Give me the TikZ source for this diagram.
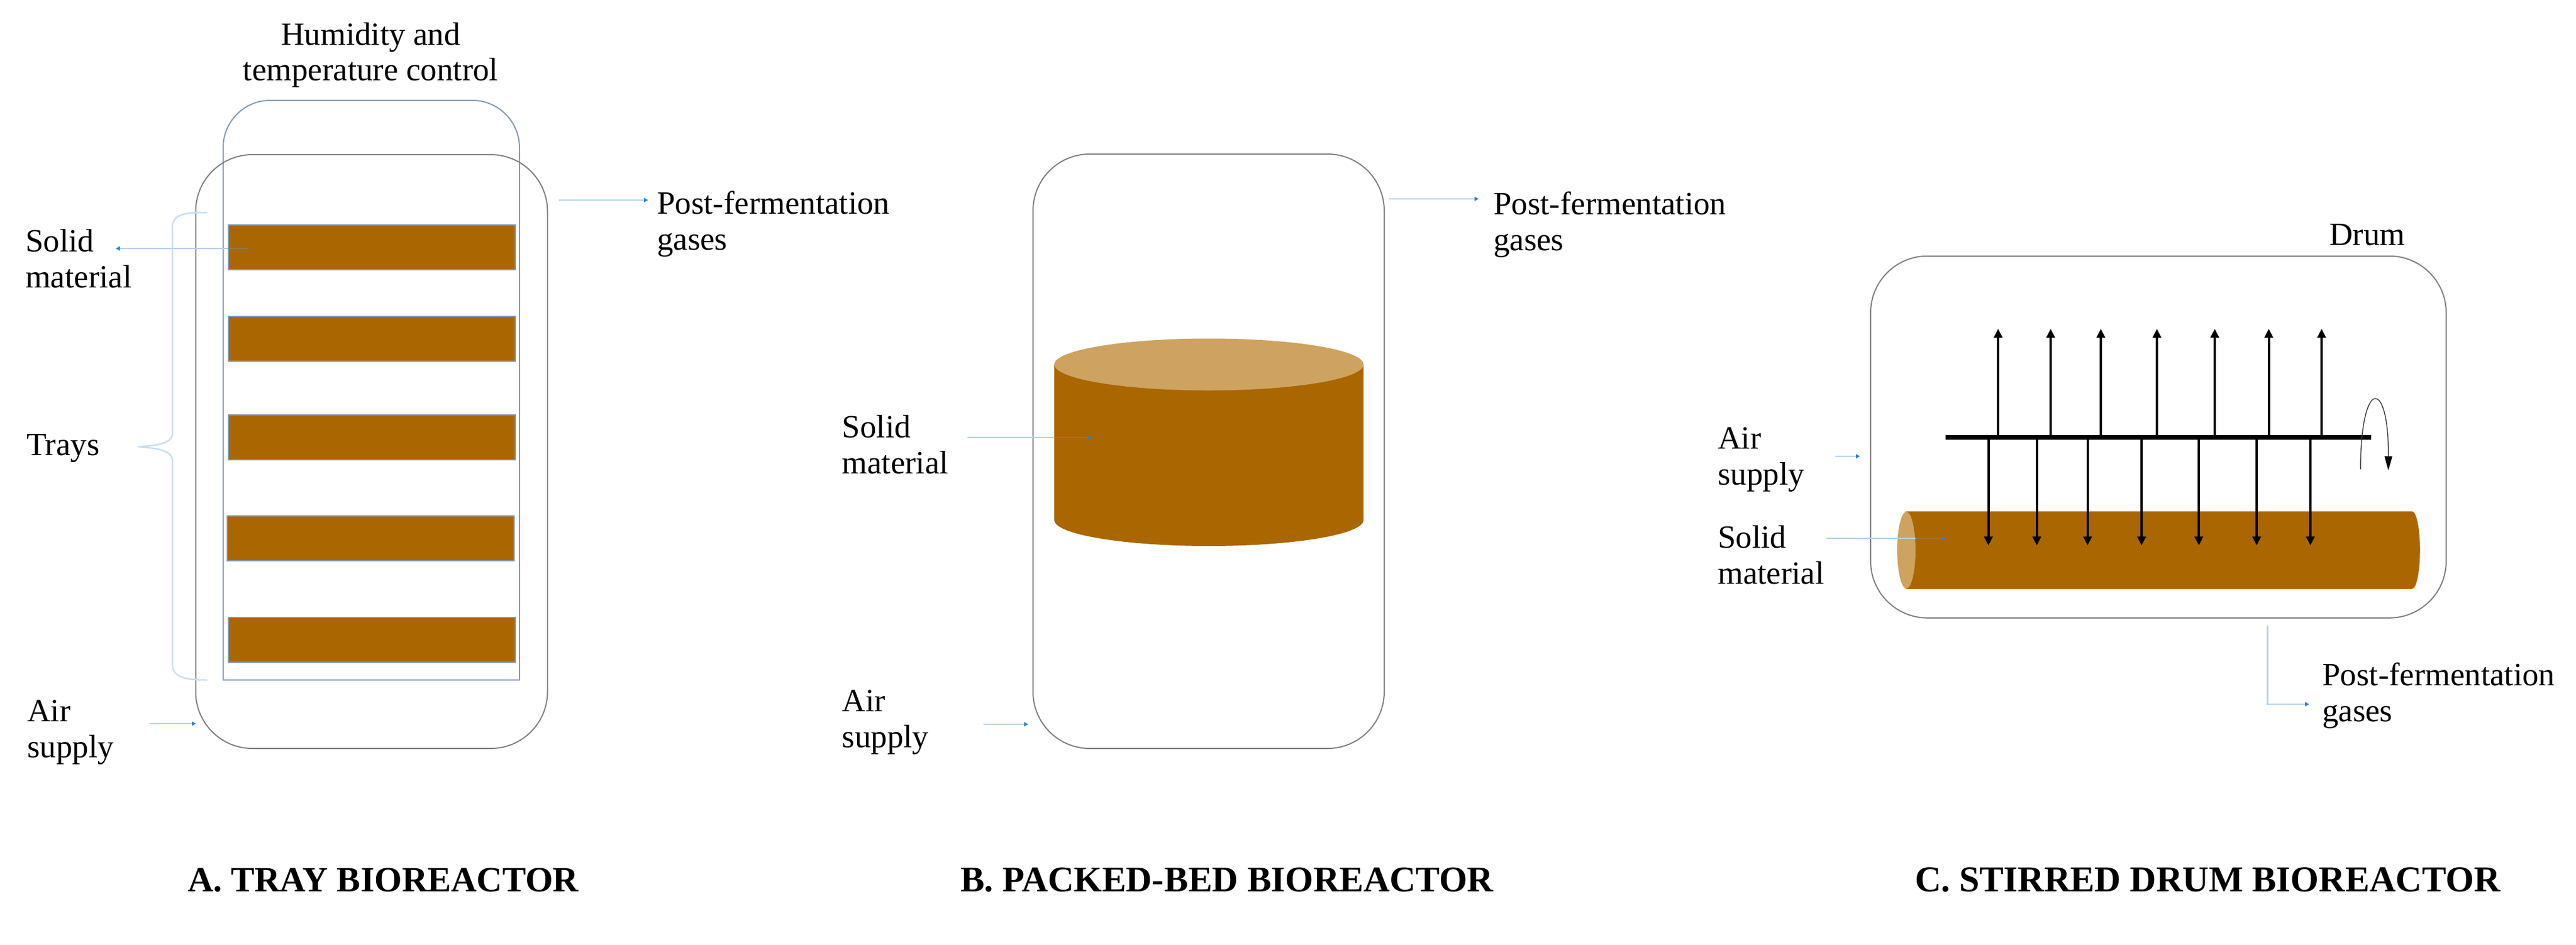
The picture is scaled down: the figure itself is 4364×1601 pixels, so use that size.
\documentclass[tikz,border=0pt]{standalone}
\usepackage{fontspec}
\setmainfont{Liberation Serif}
\usetikzlibrary{arrows.meta}
\definecolor{shellc}{HTML}{808080}
\definecolor{innerc}{HTML}{8496B0}
\definecolor{brownc}{HTML}{AA6600}
\definecolor{tanc}{HTML}{CDA35F}
\definecolor{linkc}{HTML}{B4CFEF}
\definecolor{tipc}{HTML}{2F7FD8}
\definecolor{bracec}{HTML}{C9DCF2}
\definecolor{dimc}{HTML}{8C7A52}
\definecolor{dimd}{HTML}{A5722C}
\tikzset{
  x=1pt,y=-1pt,
  lbl/.style={anchor=north west,inner sep=0pt,yshift=-3pt,align=left,font=\fontsize{55}{60.5}\selectfont,text=black},
  ttl/.style={anchor=base west,inner sep=0pt,font=\fontsize{60}{66}\selectfont\bfseries,text=black},
  shell/.style={draw=shellc,line width=2pt,rounded corners=96pt,inner sep=0pt,fill=none},
  tray/.style={draw=innerc,line width=2pt,fill=brownc,inner sep=0pt,minimum height=76pt,minimum width=486pt},
  link/.style={draw=linkc,line width=2.5pt,-{Stealth[length=7pt,width=7pt,inset=0pt,color=tipc]}},
  dimshaft/.style={draw=dimc,line width=2.5pt},
  air/.style={draw=black,line width=4pt,-{Stealth[length=15pt,width=14pt,inset=0pt]}}
}
\begin{document}
\begin{tikzpicture}
\useasboundingbox[fill=white] (0,0) rectangle (4364,1601);

% ---------- A. Tray bioreactor ----------
\draw[innerc,line width=2pt] (378,1152) -- (378,250) arc (180:90:80pt) -- (800,170) arc (90:0:80pt) -- (880,1152) -- cycle;
\node (shellA) [shell,minimum width=596pt,minimum height=1006pt] at (629.5,765) {};
\foreach \n/\cx/\cy in {1/629.5/418.5,2/629.5/574,3/629.5/740.5,4/628/912,5/629.5/1084}
  \node (tray\n) [tray] at (\cx,\cy) {};
\draw[bracec,line width=2.5pt] (351,360) .. controls (315,360) and (292,362) .. (292,385) -- (292,735)
  .. controls (292,752) and (262,755) .. (234,757) .. controls (262,759) and (292,762) .. (292,780)
  -- (292,1125) .. controls (292,1148) and (315,1152) .. (351,1152);

\node (humid) [lbl,anchor=north,align=center] at (628,35) {Humidity and\\temperature control};
\node (solidA) [lbl] at (43,385.5) {Solid\\material};
\node (trays) [lbl] at (45,732) {Trays};
\node (airA) [lbl] at (46,1183) {Air\\supply};
\node (gasA) [lbl] at (1113,321) {Post-fermentation\\gases};
\node (titleA) [ttl] at (318,1510) {A. TRAY BIOREACTOR};

\coordinate (gasAa) at (947,339); \coordinate (gasAb) at (1098,339);
\coordinate (solAa) at (421,421); \coordinate (solAb) at (196,421);
\coordinate (airAa) at (253,1226); \coordinate (airAb) at (332,1226);
\draw[link] (gasAa) -- (gasAb);
\draw[link] (solAa) -- (solAb);
\draw[dimshaft] (solAa) -- (tray1.west |- solAa);
\draw[link] (airAa) -- (airAb);

% ---------- B. Packed-bed bioreactor ----------
\node (shellB) [shell,minimum width=595pt,minimum height=1007pt] at (2047.5,764.5) {};
\fill[brownc] (1786,617.5) rectangle (2310,881);
\fill[brownc] (2048,881) ellipse (262pt and 44pt);
\fill[tanc] (2048,617.5) ellipse (262pt and 44pt);

\node (solidB) [lbl] at (1426.5,700.5) {Solid\\material};
\node (airB) [lbl] at (1426.5,1166) {Air\\supply};
\node (gasB) [lbl] at (2530,322) {Post-fermentation\\gases};
\node (titleB) [ttl,font=\fontsize{61.1}{66}\selectfont\bfseries] at (1627,1510) {B. PACKED-BED BIOREACTOR};

\coordinate (gasBa) at (2353,337); \coordinate (gasBb) at (2505,337);
\coordinate (solBa) at (1639,741); \coordinate (solBb) at (1849,741);
\coordinate (solBe) at (1786,741); \coordinate (solBt) at (1842,741);
\coordinate (airBa) at (1666,1227); \coordinate (airBb) at (1742,1227);
\draw[link] (gasBa) -- (gasBb);
\draw[link] (solBa) -- (solBb);
\draw[dimshaft] (solBe) -- (solBt);
\draw[link] (airBa) -- (airBb);

% ---------- C. Stirred drum bioreactor ----------
\node (shellC) [shell,minimum width=975pt,minimum height=613pt] at (3656.5,740.3) {};
\filldraw[fill=brownc,draw=brownc!85!orange,line width=1.5pt] (3229,867) -- (4086,867) arc (90:-90:13pt and 65pt) -- (3229,997) -- cycle;
\fill[tanc] (3229.5,932) ellipse (15.5pt and 65pt);

\coordinate (barL) at (3296,741); \coordinate (barR) at (4017,741);
\draw[black,line width=8pt] (barL) -- (barR);
\foreach \i/\x in {1/3385,2/3474,3/3559,4/3654,5/3752,6/3843.5,7/3933}{
  \coordinate (upa\i) at (\x,741); \coordinate (upb\i) at (\x,557);
  \draw[air] (upa\i) -- (upb\i);
}
\foreach \i/\x in {1/3368.5,2/3450.5,3/3536.5,4/3628,5/3725,6/3823,7/3914}{
  \coordinate (dna\i) at (\x,741); \coordinate (dnb\i) at (\x,924);
  \draw[air] (dna\i) -- (dnb\i);
}
\coordinate (rota) at (3999,795); \coordinate (rotb) at (4046,797);
\draw[black!75,line width=1.5pt,-{Stealth[length=24pt,width=13pt,inset=0pt,color=black]}] (rota) .. controls (3999,639) and (4047,639) .. (rotb);

\node (drum) [lbl] at (3946,376) {Drum};
\node (airC) [lbl] at (2910,721) {Air\\supply};
\node (solidC) [lbl] at (2910,887.5) {Solid\\material};
\node (gasC) [lbl] at (3934,1120) {Post-fermentation\\gases};
\node (titleC) [ttl,font=\fontsize{61.6}{66}\selectfont\bfseries] at (3244,1510) {C. STIRRED DRUM BIOREACTOR};

\coordinate (airCa) at (3109,773); \coordinate (airCb) at (3151,773);
\coordinate (solCa) at (3094,912); \coordinate (solCb) at (3295,912);
\coordinate (solCe) at (3245,912); \coordinate (solCt) at (3289,912);
\coordinate (gasCa) at (3841.6,1060); \coordinate (gasCb) at (3912,1193);
\draw[link] (airCa) -- (airCb);
\draw[link] (solCa) -- (solCb);
\draw[dimshaft,draw=dimd] (solCe) -- (solCt);
\draw[link] (gasCa) |- (gasCb);
\end{tikzpicture}
\end{document}
